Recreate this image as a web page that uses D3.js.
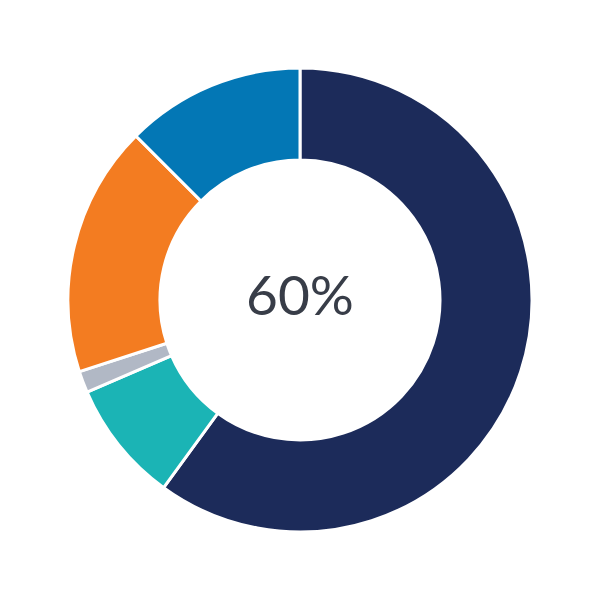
<!DOCTYPE html>
<html>
<head>
<meta charset="utf-8">
<script src="https://cdn.jsdelivr.net/npm/d3@7"></script>
<style>
body { margin: 0; background: #fff; }
</style>
</head>
<body>
<script>
var categories = ["A", "B", "C", "D", "E"];
var values = [60, 8.5, 1.5, 17.5, 12.5];
var colours = ["#1c2b5a", "#1bb4b5", "#b1b8c5", "#f37c21", "#0377b5"];
var centreLabel = "60%";

var w = 600;
var h = 600;
var outer = 232;
var inner = 140;

var svg = d3.select("body")
			.append("svg")
			.attr("width", w)
			.attr("height", h);

var g = svg.append("g")
	.attr("transform", "translate(" + (w / 2) + "," + (h / 2) + ")");

var pie = d3.pie().sort(null).value(function(d){ return d; });
var arc = d3.arc().innerRadius(inner).outerRadius(outer);

var colour = d3.scaleOrdinal().domain(categories).range(colours);

g.selectAll("path")
	.data(pie(values))
	.enter()
	.append("path")
		.attr("d", arc)
		.attr("fill", function(d, i){ return colour(categories[i]); })
		.attr("stroke", "#ffffff")
		.attr("stroke-width", 3);

// centre label
g.append("text")
	.text(centreLabel)
	.attr("text-anchor", "middle")
	.attr("y", 15)
	.attr("font-family", "Lato, sans-serif")
	.attr("font-weight", 400)
	.attr("font-size", 55)
	.attr("fill", "#383d48");
</script>
</body>
</html>
